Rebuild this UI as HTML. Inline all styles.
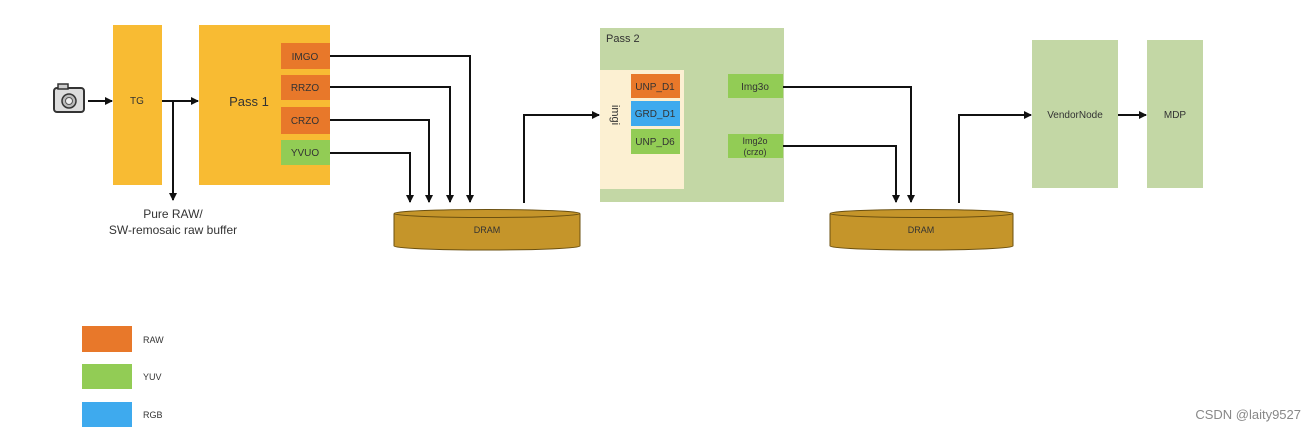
<!DOCTYPE html>
<html><head><meta charset="utf-8"><style>
body{margin:0;background:#fff;width:1316px;height:432px;overflow:hidden}
text{font-family:"Liberation Sans",sans-serif}
</style></head><body>
<svg width="1316" height="432" viewBox="0 0 1316 432" xmlns="http://www.w3.org/2000/svg">
<defs><marker id="a" markerWidth="8" markerHeight="8" refX="7" refY="4" orient="auto" markerUnits="userSpaceOnUse"><path d="M0,0 L8,4 L0,8 z" fill="#111"/></marker></defs>
<!-- camera -->
<g>
<rect x="54" y="88" width="30" height="24" rx="3" fill="#ddd" stroke="#333" stroke-width="2"/>
<rect x="58" y="84" width="10" height="5" fill="#ccc" stroke="#333" stroke-width="1.5"/>
<circle cx="69" cy="101" r="7" fill="#bbb" stroke="#333" stroke-width="1.5"/>
<circle cx="69" cy="101" r="3.5" fill="#eee" stroke="#555"/>
</g>
<!-- TG -->
<rect x="113" y="25" width="49" height="160" fill="#f8bb33"/>
<text x="137" y="104" font-size="10" text-anchor="middle" fill="#333">TG</text>
<!-- Pass1 -->
<rect x="199" y="25" width="131" height="160" fill="#f8bb33"/>
<text x="249" y="106" font-size="13" text-anchor="middle" fill="#333">Pass 1</text>
<rect x="281" y="43" width="49" height="26" fill="#e8782a"/>
<text x="305" y="60" font-size="10" text-anchor="middle" fill="#333">IMGO</text>
<rect x="281" y="75" width="49" height="25" fill="#e8782a"/>
<text x="305" y="91" font-size="10" text-anchor="middle" fill="#333">RRZO</text>
<rect x="281" y="107" width="49" height="27" fill="#e8782a"/>
<text x="305" y="124" font-size="10" text-anchor="middle" fill="#333">CRZO</text>
<rect x="281" y="140" width="49" height="25" fill="#92cc55"/>
<text x="305" y="156" font-size="10" text-anchor="middle" fill="#333">YVUO</text>
<!-- arrows P1 -->
<g stroke="#111" stroke-width="2" fill="none">
<line x1="88" y1="101" x2="112" y2="101" marker-end="url(#a)"/>
<line x1="162" y1="101" x2="198" y2="101" marker-end="url(#a)"/>
<polyline points="173,101 173,200" marker-end="url(#a)"/>
<polyline points="330,56 470,56 470,202" marker-end="url(#a)"/>
<polyline points="330,87 450,87 450,202" marker-end="url(#a)"/>
<polyline points="330,120 429,120 429,202" marker-end="url(#a)"/>
<polyline points="330,153 410,153 410,202" marker-end="url(#a)"/>
<polyline points="524,203 524,115 599,115" marker-end="url(#a)"/>
</g>
<text x="173" y="218" font-size="12" text-anchor="middle" fill="#333">Pure RAW/</text>
<text x="173" y="234" font-size="12" text-anchor="middle" fill="#333">SW-remosaic raw buffer</text>
<!-- DRAM1 -->
<path d="M394,214 L394,246 A93,4 0 0 0 580,246 L580,214" fill="#c5952a" stroke="#6b5010" stroke-width="1"/>
<ellipse cx="487" cy="213.5" rx="93" ry="4" fill="#c5952a" stroke="#6b5010" stroke-width="1"/>
<text x="487" y="233" font-size="9" text-anchor="middle" fill="#333">DRAM</text>
<!-- Pass2 -->
<rect x="600" y="28" width="184" height="174" fill="#c3d7a5"/>
<text x="606" y="42" font-size="11" fill="#333">Pass 2</text>
<rect x="600" y="70" width="84" height="119" fill="#fcf0d2"/>
<text x="612" y="115" font-size="11" fill="#333" transform="rotate(90 612 115)" text-anchor="middle">imgi</text>
<rect x="631" y="74" width="49" height="24" fill="#e8782a"/>
<text x="655" y="90" font-size="10" text-anchor="middle" fill="#333">UNP_D1</text>
<rect x="631" y="101" width="49" height="25" fill="#3eaaee"/>
<text x="655" y="117" font-size="10" text-anchor="middle" fill="#333">GRD_D1</text>
<rect x="631" y="129" width="49" height="25" fill="#92cc55"/>
<text x="655" y="145" font-size="10" text-anchor="middle" fill="#333">UNP_D6</text>
<rect x="728" y="74" width="55" height="24" fill="#92cc55"/>
<text x="755" y="90" font-size="10" text-anchor="middle" fill="#333">Img3o</text>
<rect x="728" y="134" width="55" height="24" fill="#92cc55"/>
<text x="755" y="144" font-size="9" text-anchor="middle" fill="#333">Img2o</text>
<text x="755" y="155" font-size="9" text-anchor="middle" fill="#333">(crzo)</text>
<g stroke="#111" stroke-width="2" fill="none">
<polyline points="783,87 911,87 911,202" marker-end="url(#a)"/>
<polyline points="783,146 896,146 896,202" marker-end="url(#a)"/>
<polyline points="959,203 959,115 1031,115" marker-end="url(#a)"/>
<line x1="1118" y1="115" x2="1146" y2="115" marker-end="url(#a)"/>
</g>
<!-- DRAM2 -->
<path d="M830,214 L830,246 A91.5,4 0 0 0 1013,246 L1013,214" fill="#c5952a" stroke="#6b5010" stroke-width="1"/>
<ellipse cx="921.5" cy="213.5" rx="91.5" ry="4" fill="#c5952a" stroke="#6b5010" stroke-width="1"/>
<text x="921" y="233" font-size="9" text-anchor="middle" fill="#333">DRAM</text>
<!-- Vendor, MDP -->
<rect x="1032" y="40" width="86" height="148" fill="#c3d7a5"/>
<text x="1075" y="118" font-size="10" text-anchor="middle" fill="#333">VendorNode</text>
<rect x="1147" y="40" width="56" height="148" fill="#c3d7a5"/>
<text x="1175" y="118" font-size="10" text-anchor="middle" fill="#333">MDP</text>
<!-- legend -->
<rect x="82" y="326" width="50" height="26" fill="#e8782a"/>
<text x="143" y="343" font-size="9" fill="#333">RAW</text>
<rect x="82" y="364" width="50" height="25" fill="#92cc55"/>
<text x="143" y="380" font-size="9" fill="#333">YUV</text>
<rect x="82" y="402" width="50" height="25" fill="#3eaaee"/>
<text x="143" y="418" font-size="9" fill="#333">RGB</text>
<text x="1301" y="419" font-size="13" text-anchor="end" fill="#888">CSDN @laity9527</text>
</svg>
</body></html>
